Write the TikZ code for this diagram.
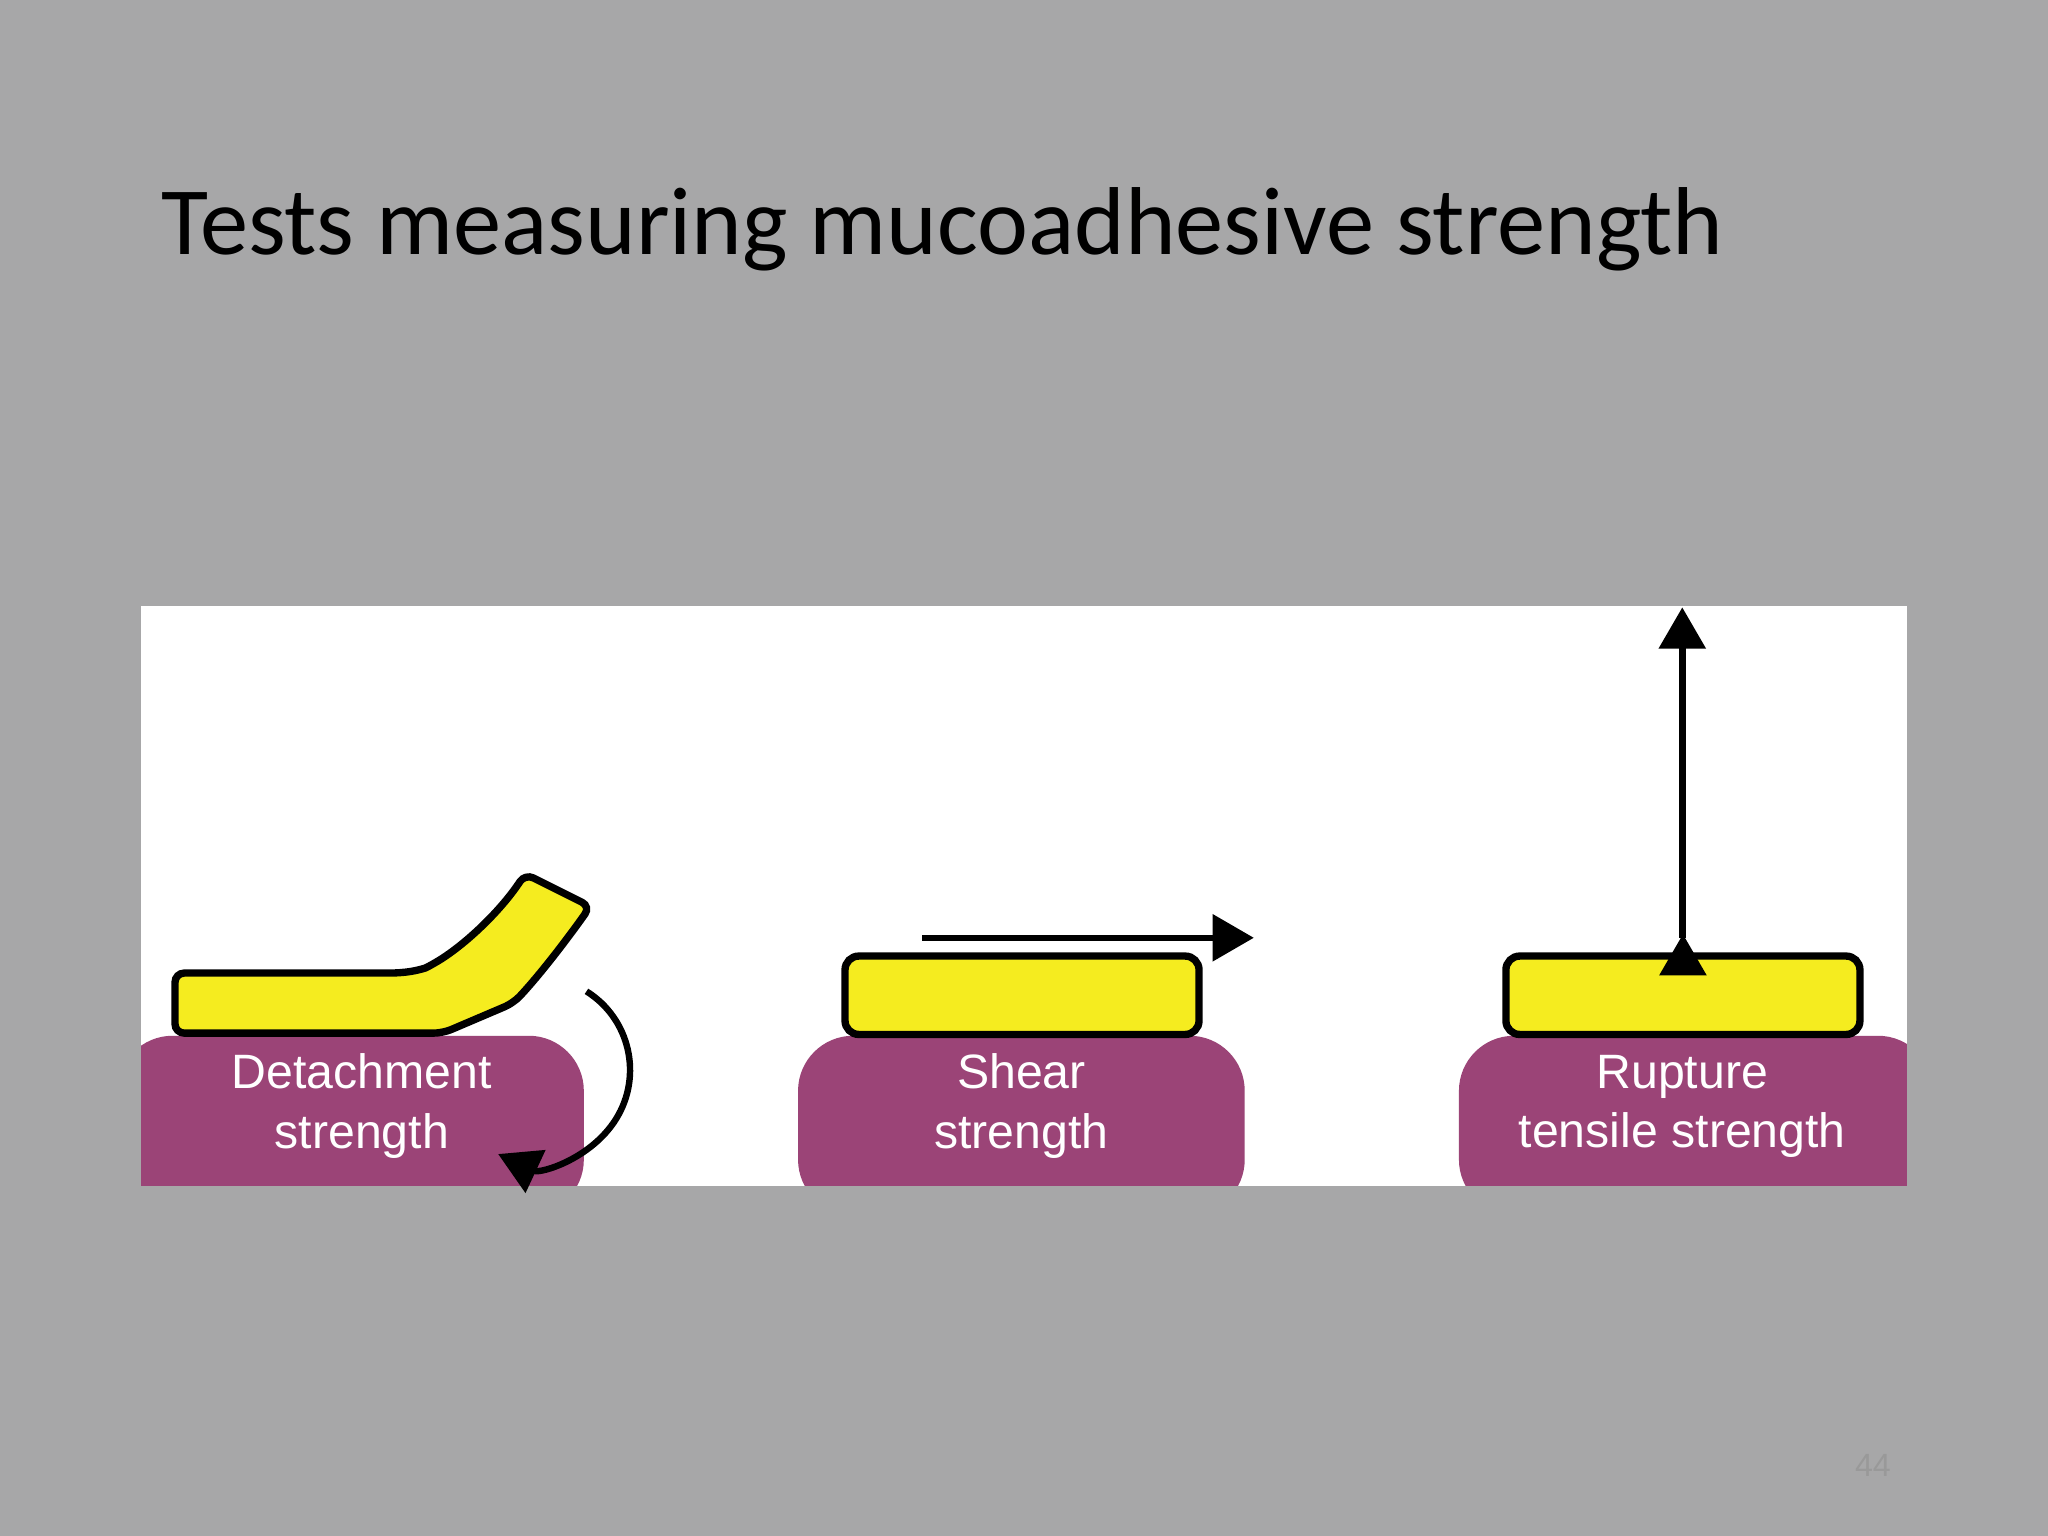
\documentclass[tikz,border=0pt]{standalone}
\usepackage{fontspec}
\setmainfont{Liberation Sans}
\newfontfamily\titlefont{Carlito}
\usetikzlibrary{arrows.meta}
\definecolor{bggray}{HTML}{A7A7A8}
\definecolor{mucosa}{HTML}{9B4477}
\definecolor{patch}{HTML}{F5EC1F}
\begin{document}
\begin{tikzpicture}[x=0.01cm,y=-0.01cm,
  label box/.style={fill=mucosa, rounded corners=12pt, text=white, font=\fontsize{10.5}{13}\selectfont, align=center},
  patchbox/.style={fill=patch, draw=black, line width=1.6pt, rounded corners=3pt},
  force/.style={line width=1.4pt, -{Triangle[length=9pt,width=10pt]}}]
\fill[bggray] (0,0) rectangle (1568,1176);
\useasboundingbox (0,0) rectangle (1568,1176);
\node[anchor=base west, font=\titlefont\fontsize{21}{25}\selectfont, inner sep=0] (title) at (123,195) {Tests measuring mucoadhesive strength};
\fill[white] (108,464) rectangle (1460,908);
% purple boxes
\begin{scope}
\clip (108,464) rectangle (1460,908);
\fill[mucosa, rounded corners=12pt] (90,793) rectangle (447,930);
\fill[mucosa, rounded corners=12pt] (611,793) rectangle (953,930);
\fill[mucosa, rounded corners=12pt] (1117,793) rectangle (1480,930);
\end{scope}
\node[text=white, font=\fontsize{10.5}{13}\selectfont, align=center] (l1) at (277,847) {Detachment\\strength};
\node[text=white, font=\fontsize{10.5}{13}\selectfont, align=center] (l2) at (782,847) {Shear\\strength};
\node[text=white, font=\fontsize{10.5}{13}\selectfont, align=center] (l3) at (1288,847) {Rupture\\tensile strength};
% detachment patch
\draw[fill=patch, line width=1.6pt, rounded corners=2pt] (134,745) -- (306,745) .. controls (320,743) and (326,741) .. (332,738) .. controls (360,720) and (385,695) .. (402,669) -- (452,694) .. controls (430,725) and (410,750) .. (393,768) -- (339,791) -- (134,791) -- cycle;
\draw[force] (449,759) arc[start angle=-58, end angle=115, radius=71];
% shear
\node[patchbox, minimum width=271pt*0.01/0.03514, minimum height=60pt*0.01/0.03514] (p2) at (782.5,762) {};
\coordinate (s1) at (706,718); \coordinate (s2) at (960,718);
\draw[force] (s1) -- (s2);
% rupture
\node[patchbox, minimum width=271pt*0.01/0.03514, minimum height=60pt*0.01/0.03514] (p3) at (1288.5,762) {};
\coordinate (r2) at (1288,465);
\draw[force] (p3.north) ++(0,-14) coordinate (r1);
\draw[force] (1288,718) -- (r2);
\node[text=black!40, font=\fontsize{7}{8}\selectfont] (pg) at (1434,1122) {44};
\end{tikzpicture}
\end{document}
